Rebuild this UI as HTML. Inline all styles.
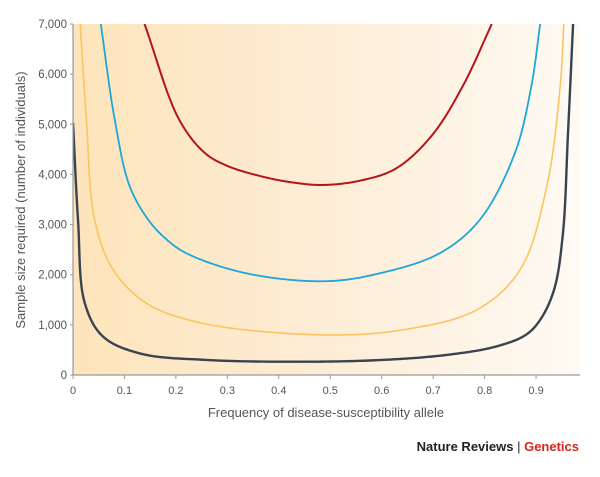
<!DOCTYPE html>
<html><head><meta charset="utf-8"><style>
body{margin:0;background:#fff;font-family:"Liberation Sans",sans-serif}
svg text{font-family:"Liberation Sans",sans-serif}
</style></head><body>
<svg id="c" width="600" height="472">
<defs>
<linearGradient id="bg" x1="0" x2="1" y1="0" y2="0">
<stop offset="0" stop-color="#fde4bb"/><stop offset="0.5" stop-color="#fdedd6"/><stop offset="1" stop-color="#fffaf4"/>
</linearGradient>
<clipPath id="clip"><rect x="73" y="24" width="507" height="351"/></clipPath>
</defs>
<rect x="73" y="24" width="507" height="351" fill="url(#bg)"/>
<g id="curves" clip-path="url(#clip)"></g>
<g id="axes"></g>
<text x="326" y="417" text-anchor="middle" font-size="13" fill="#555">Frequency of disease-susceptibility allele</text>
<text transform="translate(25,200) rotate(-90)" text-anchor="middle" font-size="13" fill="#555">Sample size required (number of individuals)</text>
<text x="579" y="451" text-anchor="end" font-size="13" font-weight="bold"><tspan fill="#222">Nature Reviews</tspan><tspan fill="#222" font-weight="normal"> | </tspan><tspan fill="#d9261c">Genetics</tspan></text>
</svg>
<script>
const xTicks=[0,0.1,0.2,0.3,0.4,0.5,0.6,0.7,0.8,0.9];
const yTicks=[0,1000,2000,3000,4000,5000,6000,7000];
const blackP=[0,0.0097,0.023,0.058,0.13,0.26,0.45,0.6,0.726,0.823,0.88,0.908,0.935,0.952,0.962,0.972];
const blackN=[5030,3100,1430,770,430,300,265,300,400,570,800,1100,1700,2800,4800,7000];
const yellowP=[0.014,0.026,0.042,0.078,0.143,0.253,0.486,0.641,0.785,0.869,0.921,0.947,0.954];
const yellowN=[7000,5100,3100,2100,1430,1030,800,900,1300,2100,3770,5770,7000];
const blueP=[0.054,0.081,0.11,0.146,0.18,0.22,0.336,0.49,0.597,0.713,0.791,0.859,0.891,0.908];
const blueN=[7000,5100,3770,3100,2720,2430,2030,1870,2030,2430,3100,4430,5770,7000];
const redP=[0.139,0.206,0.256,0.3,0.363,0.42,0.485,0.56,0.628,0.697,0.758,0.814];
const redN=[7000,5100,4430,4170,3970,3850,3790,3880,4120,4770,5770,7000];

const NS="http://www.w3.org/2000/svg";
const X0=73,PX=514.5,Y0=375,PY=351/7000;
const sx=p=>X0+p*PX, sy=n=>Y0-n*PY;
function path(P,N){
  const pts=P.map((p,i)=>[sx(p),sy(N[i])]);
  const n=pts.length;
  const ext=[[2*pts[0][0]-pts[1][0],2*pts[0][1]-pts[1][1]],...pts,[2*pts[n-1][0]-pts[n-2][0],2*pts[n-1][1]-pts[n-2][1]]];
  const out=[pts[0]];
  const dist=(a,b)=>Math.max(1e-4,Math.pow(Math.hypot(a[0]-b[0],a[1]-b[1]),0.5));
  for(let i=1;i<ext.length-2;i++){
    const P0=ext[i-1],P1=ext[i],P2=ext[i+1],P3=ext[i+2];
    const t0=0,t1=t0+dist(P0,P1),t2=t1+dist(P1,P2),t3=t2+dist(P2,P3);
    for(let k=1;k<=24;k++){
      const t=t1+(t2-t1)*k/24;
      const L=(A,B,ta,tb)=>[0,1].map(j=>(tb-t)/(tb-ta)*A[j]+(t-ta)/(tb-ta)*B[j]);
      const A1=L(P0,P1,t0,t1),A2=L(P1,P2,t1,t2),A3=L(P2,P3,t2,t3);
      const B1=L(A1,A2,t0,t2),B2=L(A2,A3,t1,t3);
      out.push(L(B1,B2,t1,t2));
    }
  }
  return "M"+out.map(q=>q[0].toFixed(2)+","+q[1].toFixed(2)).join("L");
}
const g=document.getElementById('curves');
[[blackP,blackN,"#3a4450",2.4,"curve-black"],[yellowP,yellowN,"#fdc45e",1.6,"curve-yellow"],[blueP,blueN,"#1ea6d8",1.8,"curve-blue"],[redP,redN,"#b3151b",2,"curve-red"]].forEach(s=>{
  const e=document.createElementNS(NS,'path');
  
  
  e.setAttribute('d',path(s[0],s[1]));
  e.setAttribute('fill','none');e.setAttribute('stroke',s[2]);e.setAttribute('stroke-width',s[3]);
  e.setAttribute('stroke-linejoin','round');
  g.appendChild(e);
});
const a=document.getElementById('axes');
function el(t,attrs,txt){const e=document.createElementNS(NS,t);for(const k in attrs)e.setAttribute(k,attrs[k]);if(txt!==undefined)e.textContent=txt;a.appendChild(e);return e;}
const xl=el('line',{x1:X0,x2:580,y1:Y0,y2:Y0,stroke:"#999","stroke-width":1.2});


const yl=el('line',{x1:X0,x2:X0,y1:24,y2:Y0,stroke:"#999","stroke-width":1.2});


xTicks.forEach(t=>{
  const l=el('line',{x1:sx(t),x2:sx(t),y1:Y0,y2:Y0+4,stroke:"#999"});
  
  
  const tx=el('text',{x:sx(t),y:394,"text-anchor":"middle","font-size":11,fill:"#555"},String(t));
  
  
});
yTicks.forEach(t=>{
  const l=el('line',{x1:X0-3,x2:X0,y1:sy(t),y2:sy(t),stroke:"#999"});
  
  
  const tx=el('text',{x:X0-6,y:sy(t)+4,"text-anchor":"end","font-size":11.5,fill:"#555"},t.toLocaleString('en-US'));
  
  
});
</script>
</body></html>
